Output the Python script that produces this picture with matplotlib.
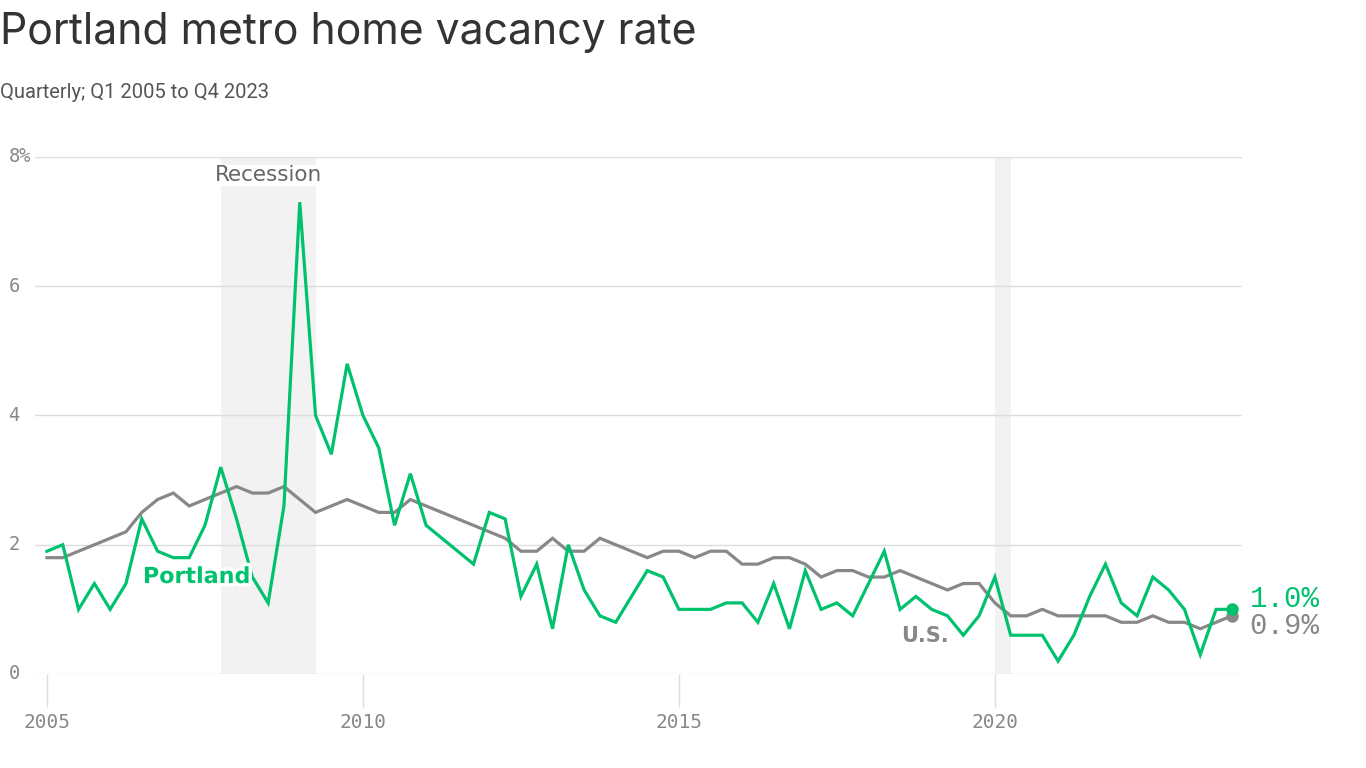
"""Portland metro vs U.S. home vacancy rate, quarterly line chart."""
import matplotlib
matplotlib.use("Agg")
import matplotlib.pyplot as plt
import matplotlib.patheffects as pe
import numpy as np

FIRST_YEAR = 2005
portland = [
    1.9, 2.0, 1.0, 1.4, 1.0, 1.4, 2.4, 1.9, 1.8, 1.8, 2.3, 3.2,
    2.4, 1.5, 1.1, 2.6, 7.3, 4.0, 3.4, 4.8, 4.0, 3.5, 2.3, 3.1,
    2.3, 2.1, 1.9, 1.7, 2.5, 2.4, 1.2, 1.7, 0.7, 2.0, 1.3, 0.9,
    0.8, 1.2, 1.6, 1.5, 1.0, 1.0, 1.0, 1.1, 1.1, 0.8, 1.4, 0.7,
    1.6, 1.0, 1.1, 0.9, 1.4, 1.9, 1.0, 1.2, 1.0, 0.9, 0.6, 0.9,
    1.5, 0.6, 0.6, 0.6, 0.2, 0.6, 1.2, 1.7, 1.1, 0.9, 1.5, 1.3,
    1.0, 0.3, 1.0, 1.0,
]
us = [
    1.8, 1.8, 1.9, 2.0, 2.1, 2.2, 2.5, 2.7, 2.8, 2.6, 2.7, 2.8,
    2.9, 2.8, 2.8, 2.9, 2.7, 2.5, 2.6, 2.7, 2.6, 2.5, 2.5, 2.7,
    2.6, 2.5, 2.4, 2.3, 2.2, 2.1, 1.9, 1.9, 2.1, 1.9, 1.9, 2.1,
    2.0, 1.9, 1.8, 1.9, 1.9, 1.8, 1.9, 1.9, 1.7, 1.7, 1.8, 1.8,
    1.7, 1.5, 1.6, 1.6, 1.5, 1.5, 1.6, 1.5, 1.4, 1.3, 1.4, 1.4,
    1.1, 0.9, 0.9, 1.0, 0.9, 0.9, 0.9, 0.9, 0.8, 0.8, 0.9, 0.8,
    0.8, 0.7, 0.8, 0.9,
]
recessions = [(2007.75, 2009.25), (2020.0, 2020.25)]
x_ticks = [2005, 2010, 2015, 2020]
y_ticks = [0, 2, 4, 6, 8]

GREEN = "#00c26e"
GRAY = "#888888"
MONO = "DejaVu Sans Mono"

x = FIRST_YEAR + np.arange(len(portland)) / 4

fig = plt.figure(figsize=(13.66, 7.68), dpi=100)
ax = fig.add_axes([0.0256, 0.1224, 0.8836, 0.6732])
ax.set_xlim(2004.81, 2023.91)
ax.set_ylim(0, 8)

for a, b in recessions:
    ax.axvspan(a, b, color="#f2f2f2", lw=0, zorder=0)
for yv in y_ticks:
    ax.axhline(yv, color="#dddddd", lw=1, zorder=7 if yv == 8 else 1)
    lab = f"{yv}%" if yv == 8 else f"{yv}"
    ax.text(-0.022, yv, lab, transform=ax.get_yaxis_transform(),
            ha="left", va="center", fontsize=13.5, color="#888888",
            family=MONO)

ax.plot(x, us, color=GRAY, lw=2.3, zorder=3, solid_joinstyle="miter")
ax.plot(x, portland, color=GREEN, lw=2.3, zorder=4, solid_joinstyle="miter")
ax.plot(x[-1], us[-1], "o", color=GRAY, ms=8, zorder=3, clip_on=False)
ax.plot(x[-1], portland[-1], "o", color=GREEN, ms=8, zorder=5, clip_on=False)

ax.text(2024.03, 1.16, f"{portland[-1]:.1f}%", color=GREEN, fontsize=21,
        family="Liberation Mono", va="center", ha="left", clip_on=False)
ax.text(2024.03, 0.74, f"{us[-1]:.1f}%", color=GRAY, fontsize=21,
        family="Liberation Mono", va="center", ha="left", clip_on=False)

ax.text(2007.37, 1.5, "Portland", color=GREEN, fontsize=16, weight="bold",
        ha="center", va="center", zorder=6,
        path_effects=[pe.withStroke(linewidth=5, foreground="white")])
ax.text(2018.89, 0.59, "U.S.", color=GRAY, fontsize=15, weight="bold",
        ha="center", va="center", zorder=6)
ax.text(2008.5, 7.72, "Recession", color="#666666", fontsize=15.5,
        ha="center", va="center", zorder=6,
        bbox=dict(facecolor="white", edgecolor="none", pad=0.3))

for side in ax.spines.values():
    side.set_visible(False)
ax.set_yticks([])
ax.set_xticks(x_ticks)
ax.set_xticklabels([str(t) for t in x_ticks], family=MONO, fontsize=14,
                   color="#888888")
ax.tick_params(axis="x", length=24, color="#dddddd", width=1, pad=4)

fig.text(0.0, 0.943, "Portland metro home vacancy rate", fontsize=30.8,
         color="#333333", family="Inter", va="baseline", ha="left")
fig.text(0.0, 0.872, "Quarterly; Q1 2005 to Q4 2023", fontsize=14.5,
         color="#555555", family="Roboto", va="baseline", ha="left")

fig.savefig("out.png", dpi=100)
